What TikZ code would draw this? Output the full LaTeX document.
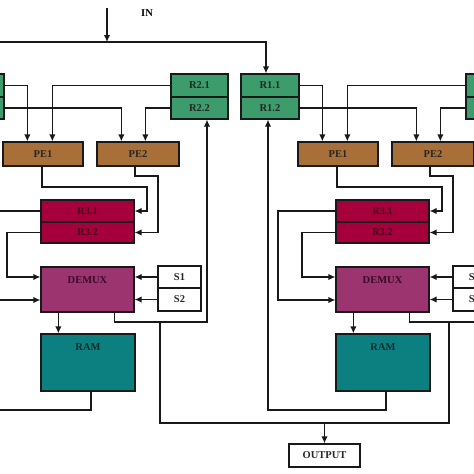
\documentclass[tikz,border=0pt]{standalone}
\usepackage{fontspec}
\setmainfont{Liberation Serif}
\usetikzlibrary{arrows.meta,calc}
\definecolor{rgreen}{HTML}{3C9C6C}
\definecolor{pebrown}{HTML}{A87038}
\definecolor{rcrim}{HTML}{A5003C}
\definecolor{dmx}{HTML}{9C3470}
\definecolor{ramteal}{HTML}{0C8080}
\definecolor{rtext}{HTML}{4A0018}
\definecolor{dtext}{HTML}{3A0A2A}
\definecolor{ttext}{HTML}{0A2A2A}
\tikzset{
  box/.style={draw=black!90, line width=1.3pt, inner sep=0pt, font=\bfseries\fontsize{10.5}{11}\selectfont, text=black!85},
  lbl/.style={inner sep=0pt, font=\bfseries\fontsize{10.5}{11}\selectfont},
  wire/.style={line width=1.3pt, draw=black!90},
  arr/.style={wire, -{Latex[length=7pt,width=6.5pt]}},
}
\newcommand\drawunit[2]{%
  \node[box,fill=rgreen,minimum width=58pt,minimum height=23pt] (#1Ra1) at (-25+#2,85.5) {R1.1};
  \node[box,fill=rgreen,minimum width=58pt,minimum height=22pt] (#1Ra2) at (-25+#2,108) {R1.2};
  \node[box,fill=rgreen,minimum width=57pt,minimum height=23pt] (#1Rb1) at (199.5+#2,85.5) {R2.1};
  \node[box,fill=rgreen,minimum width=57pt,minimum height=22pt] (#1Rb2) at (199.5+#2,108) {R2.2};
  \node[box,fill=pebrown,minimum width=80pt,minimum height=24pt] (#1PEa) at (43+#2,154) {PE1};
  \node[box,fill=pebrown,minimum width=82pt,minimum height=24pt] (#1PEb) at (138+#2,154) {PE2};
  \node[box,fill=rcrim,text=rtext,minimum width=93pt,minimum height=22pt] (#1Rc1) at (87.5+#2,211) {R3.1};
  \node[box,fill=rcrim,text=rtext,minimum width=93pt,minimum height=21pt] (#1Rc2) at (87.5+#2,232.5) {R3.2};
  \node[box,fill=dmx,minimum width=93pt,minimum height=45pt] (#1DM) at (87.5+#2,289.5) {};
  \node[lbl,text=dtext] (#1DMt) at (87.5+#2,280) {DEMUX};
  \node[box,fill=white,minimum width=43pt,minimum height=22pt] (#1S1) at (179.5+#2,277) {S1};
  \node[box,fill=white,minimum width=43pt,minimum height=23pt] (#1S2) at (179.5+#2,299.5) {S2};
  \node[box,fill=ramteal,minimum width=94pt,minimum height=57pt] (#1RAM) at (88+#2,362.5) {};
  \node[lbl,text=ttext] (#1RAMt) at (88+#2,347) {RAM};
  \draw[arr] (#1Ra1.east) -| ($(#1PEa.north west)+(25,0)$);
  \draw[arr] (#1Ra2.east) -| ($(#1PEb.north west)+(25,0)$);
  \draw[arr] (#1Rb1.west) -| ($(#1PEa.north west)+(50,0)$);
  \draw[arr] (#1Rb2.west) -| ($(#1PEb.north west)+(49,0)$);
  \draw[arr] ($(#1PEa.south)+(-1,0)$) |- (147+#2,187) |- (#1Rc1.east);
  \draw[arr] ($(#1PEb.south)+(-3,0)$) |- (158+#2,176) |- (#1Rc2.east);
  \draw[arr] (#1Rc1.west) -- (-17+#2,211) |- ($(#1DM.west)+(0,10.5)$);
  \draw[arr] (#1Rc2.west) -- (7+#2,232.5) |- ($(#1DM.west)+(0,-12.5)$);
  \draw[arr] (#1S1.west) -- (#1S1.west -| #1DM.east);
  \draw[arr] (#1S2.west) -- (#1S2.west -| #1DM.east);
  \draw[arr] ($(#1DM.south west)+(18,0)$) -- ($(#1RAM.north west)+(18,0)$);
  \draw[arr] ($(#1DM.south west)+(74,0)$) |- (207+#2,322) -- ($(#1Rb2.south)+(7.5,0)$);
  \draw[arr] ($(#1RAM.south)+(3,0)$) |- (-27+#2,410) -- ($(#1Ra2.south)+(-2,0)$);
}
\begin{document}
\begin{tikzpicture}[x=1pt,y=-1pt]
  \useasboundingbox (0,0) rectangle (474,474);
  \clip (0,0) rectangle (474,474);
  \fill[white] (0,0) rectangle (474,474);
  \drawunit{L}{0}
  \drawunit{R}{295}
  \node[lbl] (IN) at (147,13) {IN};
  \coordinate (inTop) at (107,8);
  \coordinate (inBus) at (107,42);
  \draw[arr] (inTop) -- (inBus);
  \draw[arr] (inBus) -| ($(RRa1.north)+(-4,0)$);
  \draw[arr] (inBus) -| ($(LRa1.north)+(-4,0)$);
  \node[box,fill=white,minimum width=71pt,minimum height=23pt] (OUT) at (324.5,455.5) {OUTPUT};
  \coordinate (j1) at (160,322);
  \coordinate (j2) at (449,322);
  \coordinate (bus) at (324.5,423);
  \draw[wire] (j1) -- (160,423) -- (449,423) -- (j2);
  \draw[arr] (bus) -- (OUT);
\end{tikzpicture}
\end{document}
